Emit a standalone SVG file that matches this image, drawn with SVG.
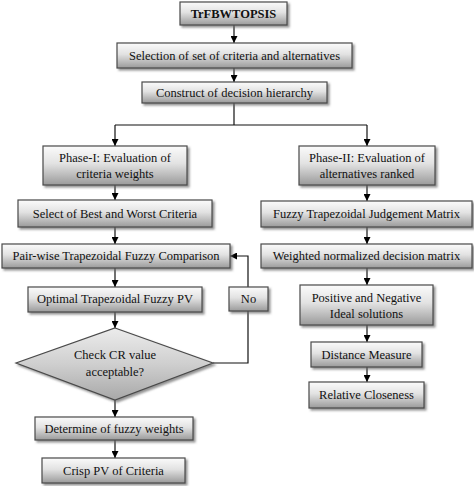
<svg xmlns="http://www.w3.org/2000/svg" width="474" height="486" viewBox="0 0 474 486" font-family="'Liberation Serif', 'Times New Roman', 'DejaVu Serif', serif">
<defs>
<linearGradient id="g" x1="0" y1="0" x2="0" y2="1">
<stop offset="0" stop-color="#fbfbfb"/>
<stop offset="0.45" stop-color="#e2e2e2"/>
<stop offset="1" stop-color="#9a9a9a"/>
</linearGradient>
<linearGradient id="gd" x1="0" y1="0" x2="0" y2="1">
<stop offset="0" stop-color="#ececec"/>
<stop offset="0.5" stop-color="#cfcfcf"/>
<stop offset="1" stop-color="#a8a8a8"/>
</linearGradient>
<filter id="sh" x="-10%" y="-20%" width="130%" height="160%">
<feDropShadow dx="2" dy="2" stdDeviation="1.2" flood-color="#666" flood-opacity="0.7"/>
</filter>
<marker id="ah" viewBox="0 0 10 10" refX="10" refY="5" markerWidth="7" markerHeight="7" orient="auto" markerUnits="userSpaceOnUse">
<path d="M0,0 L10,5 L0,10 z" fill="#000"/>
</marker>
</defs>
<style>
.b{fill:url(#g);stroke:#4a4a4a;stroke-width:1.2;filter:url(#sh)}
.d{fill:url(#gd);stroke:#4a4a4a;stroke-width:1.2;filter:url(#sh)}
.t{font-family:"Liberation Serif","Times New Roman","DejaVu Serif",serif;font-size:12.5px;fill:#111;text-anchor:middle}
.bold{font-weight:bold}
.c{fill:none;stroke:#111;stroke-width:1.2}
.a{marker-end:url(#ah)}
</style>
<rect width="474" height="486" fill="#fff"/>
<g id="connectors">
<line class="c a" x1="234" y1="25" x2="234" y2="43"/>
<line class="c a" x1="234" y1="68" x2="234" y2="82"/>
<polyline class="c" points="234,103 234,125"/>
<polyline class="c" points="115,125 367,125"/>
<line class="c a" x1="115" y1="125" x2="115" y2="146"/>
<line class="c a" x1="367" y1="125" x2="367" y2="146"/>
<line class="c a" x1="115" y1="185" x2="115" y2="200"/>
<line class="c a" x1="115" y1="227" x2="115" y2="244"/>
<line class="c a" x1="115" y1="268" x2="115" y2="287"/>
<line class="c a" x1="115" y1="312" x2="115" y2="328"/>
<line class="c a" x1="115" y1="400" x2="115" y2="417"/>
<line class="c a" x1="115" y1="440" x2="115" y2="458"/>
<polyline class="c" points="213,363 248,363 248,311"/>
<polyline class="c a" points="248,287 248,256 230,256"/>
<line class="c a" x1="367" y1="185" x2="367" y2="201"/>
<line class="c a" x1="367" y1="227" x2="367" y2="244"/>
<line class="c a" x1="367" y1="268" x2="367" y2="285"/>
<line class="c a" x1="367" y1="325" x2="367" y2="342"/>
<line class="c a" x1="367" y1="367" x2="367" y2="382"/>
</g>
<g id="n-top"><rect class="b" x="180" y="2" width="107" height="23"/><text class="t bold" x="233.5" y="18">TrFBWTOPSIS</text></g>
<g id="n-select-set"><rect class="b" x="117" y="43" width="235" height="25"/><text class="t" x="234.5" y="60">Selection of set of criteria and alternatives</text></g>
<g id="n-hierarchy"><rect class="b" x="142" y="82" width="185" height="21"/><text class="t" x="234.5" y="97">Construct of decision hierarchy</text></g>
<g id="n-phase1"><rect class="b" x="43" y="146" width="144" height="39"/><text class="t" x="115" y="162">Phase-I: Evaluation of</text><text class="t" x="115" y="178">criteria weights</text></g>
<g id="n-bestworst"><rect class="b" x="18" y="200" width="194" height="27"/><text class="t" x="115" y="218">Select of Best and Worst Criteria</text></g>
<g id="n-pairwise"><rect class="b" x="2" y="244" width="228" height="24"/><text class="t" x="116" y="260">Pair-wise Trapezoidal Fuzzy Comparison</text></g>
<g id="n-optimal"><rect class="b" x="28" y="287" width="174" height="25"/><text class="t" x="115" y="303">Optimal Trapezoidal Fuzzy PV</text></g>
<g id="n-check"><polygon class="d" points="115,328 213,363 115,400 16,363"/><text class="t" x="115" y="359">Check CR value</text><text class="t" x="115" y="376">acceptable?</text></g>
<g id="n-no"><rect class="b" x="229" y="287" width="39" height="24"/><text class="t" x="248.5" y="303">No</text></g>
<g id="n-fuzzyweights"><rect class="b" x="35" y="417" width="158" height="23"/><text class="t" x="114" y="433">Determine of fuzzy weights</text></g>
<g id="n-crisp"><rect class="b" x="42" y="458" width="143" height="25"/><text class="t" x="113.5" y="475">Crisp PV of Criteria</text></g>
<g id="n-phase2"><rect class="b" x="299" y="146" width="136" height="39"/><text class="t" x="367" y="162">Phase-II: Evaluation of</text><text class="t" x="367" y="178">alternatives ranked</text></g>
<g id="n-judgement"><rect class="b" x="261" y="201" width="211" height="26"/><text class="t" x="366.5" y="218">Fuzzy Trapezoidal Judgement Matrix</text></g>
<g id="n-weighted"><rect class="b" x="261" y="244" width="211" height="24"/><text class="t" x="366.5" y="260">Weighted normalized decision matrix</text></g>
<g id="n-ideal"><rect class="b" x="300" y="285" width="133" height="40"/><text class="t" x="366.5" y="302">Positive and Negative</text><text class="t" x="366.5" y="318">Ideal solutions</text></g>
<g id="n-distance"><rect class="b" x="311" y="342" width="111" height="25"/><text class="t" x="366.5" y="359">Distance Measure</text></g>
<g id="n-closeness"><rect class="b" x="309" y="382" width="115" height="26"/><text class="t" x="366.5" y="399">Relative Closeness</text></g>
</svg>
